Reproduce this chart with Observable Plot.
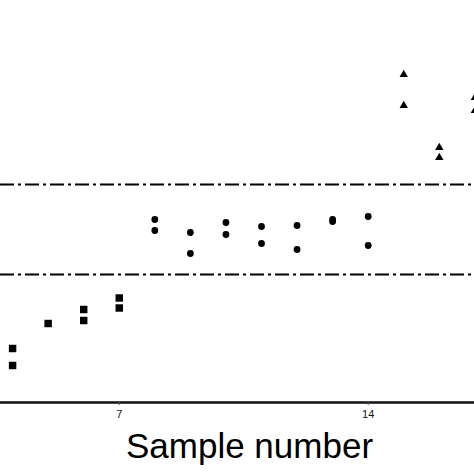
<!DOCTYPE html>
<html>
<head>
<meta charset="utf-8">
<script src="https://cdn.jsdelivr.net/npm/d3@7"></script>
<script src="https://cdn.jsdelivr.net/npm/@observablehq/plot@0.6"></script>
<style>
  html, body { margin: 0; padding: 0; background: #fff; }
  #chart svg { display: block; }
</style>
</head>
<body>
<div id="chart"></div>
<script>
// Group 1 (squares)
const squareSamples = [4, 4, 5, 6, 6, 7, 7];
const squareValues  = [5.4, 3.7, 7.9, 9.3, 8.2, 10.45, 9.45];
// Group 2 (circles)
const circleSamples = [8, 8, 9, 9, 10, 10, 11, 11, 12, 12, 13, 13, 14, 14];
const circleValues  = [18.3, 17.2, 17.0, 14.9, 18.0, 16.8, 17.6, 15.9, 17.7, 15.3, 18.3, 18.1, 18.6, 15.7];
// Group 3 (triangles)
const triangleSamples = [15, 15, 16, 16, 17, 17];
const triangleValues  = [32.8, 29.7, 25.5, 24.5, 30.5, 29.2];
// Dash-dot limit lines
const limitValues = [21.8, 12.8];
// Axis
const xTicks = [7, 14];
const xLabel = "Sample number";

const toRows = (xs, ys) => xs.map((x, i) => ({sample: x, value: ys[i]}));
const squares = toRows(squareSamples, squareValues);
const circles = toRows(circleSamples, circleValues);
const triangles = toRows(triangleSamples, triangleValues);

const chart = Plot.plot({
  width: 474,
  height: 474,
  marginLeft: 0,
  marginRight: 0,
  marginTop: 0,
  marginBottom: 72,
  style: {fontFamily: "'Liberation Sans', Arial, sans-serif", background: "#fff", color: "#000"},
  x: {domain: [3.66, 16.99]},
  y: {domain: [0, 40.2], axis: null},
  marks: [
    Plot.ruleY(limitValues, {stroke: "#000", strokeWidth: 2, strokeDasharray: "14,4,3,4"}),
    Plot.ruleY([0], {stroke: "#111", strokeWidth: 2.5}),
    Plot.axisX(xTicks, {tickSize: 3, tickPadding: 5, fontSize: 11, fill: "#111", stroke: "#555", label: null}),
    Plot.text([xLabel], {frameAnchor: "bottom", lineAnchor: "middle", dx: 12, dy: 44, fontSize: 35, fill: "#000"}),
    Plot.dot(squares, {x: "sample", y: "value", symbol: "square", r: 4.2, fill: "#000", stroke: "none"}),
    Plot.dot(circles, {x: "sample", y: "value", symbol: "circle", r: 3.4, fill: "#000", stroke: "none"}),
    Plot.dot(triangles, {x: "sample", y: "value", symbol: "triangle", r: 3.1, fill: "#000", stroke: "none"})
  ]
});
document.getElementById("chart").appendChild(chart);
</script>
</body>
</html>
